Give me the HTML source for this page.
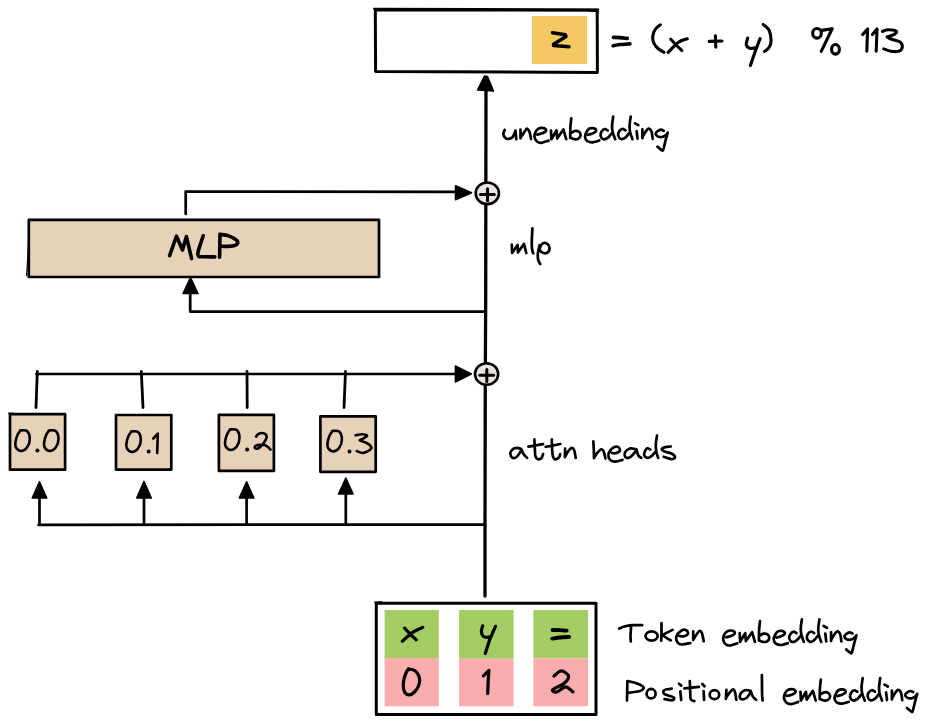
<!DOCTYPE html>
<html><head><meta charset="utf-8"><style>
html,body{margin:0;padding:0;background:#fff;}
svg{display:block;}
text{font-family:"Liberation Sans",sans-serif;fill:#000;}
</style></head><body>
<svg width="929" height="724" viewBox="0 0 929 724">
<rect width="929" height="724" fill="#fff"/>
<rect x="532" y="16" width="55" height="48" fill="#f4c963"/>
<path d="M375.3 9.8 L597.2 10.2 L597.4 72.5 L375.6 71.4 Z" fill="none" stroke="#000" stroke-width="3" stroke-linejoin="round" stroke-linecap="round"/>
<path d="M486.0 80.0 L485.7 300.0 L485.3 375.0 L485.0 524.0 L485.0 596.0" fill="none" stroke="#000" stroke-width="3.3" stroke-linejoin="round" stroke-linecap="round"/>
<path d="M484.5 76.0 L487.5 76.5 L493.5 91.0 L477.5 90.0 Z" fill="#000" stroke="#000" stroke-width="1.5" stroke-linejoin="round"/>
<path d="M185.7 214.0 L185.7 191.5 L458.0 191.8" fill="none" stroke="#000" stroke-width="2.7" stroke-linejoin="round" stroke-linecap="round"/>
<path d="M471.6 192.8 L455.5 185.8 L455.5 199.8 Z" fill="#000" stroke="#000" stroke-width="1.5" stroke-linejoin="round"/>
<path d="M28.8 219.9 L379.0 219.9 L379.0 277.0 L28.8 277.0 Z" fill="#e8d1b9" stroke="#000" stroke-width="2.7" stroke-linejoin="round" stroke-linecap="round"/>
<path d="M485.0 311.6 L190.2 311.6 L190.2 292.0" fill="none" stroke="#000" stroke-width="2.7" stroke-linejoin="round" stroke-linecap="round"/>
<path d="M190.5 277.5 L198.0 293.5 L183.0 293.5 Z" fill="#000" stroke="#000" stroke-width="1.5" stroke-linejoin="round"/>
<ellipse cx="487.3" cy="193.3" rx="11.6" ry="10.8" fill="#e9e4de" stroke="#000" stroke-width="2.6"/>
<path d="M480.5 194.5 L494.3 194.5" fill="none" stroke="#000" stroke-width="3" stroke-linejoin="round" stroke-linecap="round"/>
<path d="M487.5 188.8 L487.5 200.8" fill="none" stroke="#000" stroke-width="3" stroke-linejoin="round" stroke-linecap="round"/>
<ellipse cx="486.6" cy="374" rx="11.6" ry="10.8" fill="#e9e4de" stroke="#000" stroke-width="2.6"/>
<path d="M479.8 375.2 L493.6 375.2" fill="none" stroke="#000" stroke-width="3" stroke-linejoin="round" stroke-linecap="round"/>
<path d="M486.8 369.5 L486.8 381.5" fill="none" stroke="#000" stroke-width="3" stroke-linejoin="round" stroke-linecap="round"/>
<path d="M36.5 374.0 L456.0 374.0" fill="none" stroke="#000" stroke-width="2.7" stroke-linejoin="round" stroke-linecap="round"/>
<path d="M471.3 374.0 L455.4 366.0 L455.4 382.0 Z" fill="#000" stroke="#000" stroke-width="1.5" stroke-linejoin="round"/>
<path d="M37.3 371.5 L36.0 407.5" fill="none" stroke="#000" stroke-width="2.8" stroke-linejoin="round" stroke-linecap="round"/>
<path d="M10.0 414.2 L65.1 414.2 L65.1 469.7 L10.0 469.7 Z" fill="#e8d1b9" stroke="#000" stroke-width="2.7" stroke-linejoin="round" stroke-linecap="round"/>
<path d="M39.5 524.7 L39.5 497.0" fill="none" stroke="#000" stroke-width="2.7" stroke-linejoin="round" stroke-linecap="round"/>
<path d="M39.5 481.8 L46.8 498.0 L32.2 498.0 Z" fill="#000" stroke="#000" stroke-width="1.5" stroke-linejoin="round"/>
<path d="M141.3 371.5 L143.0 407.5" fill="none" stroke="#000" stroke-width="2.8" stroke-linejoin="round" stroke-linecap="round"/>
<path d="M116.0 415.0 L171.3 415.0 L171.3 469.6 L116.0 469.6 Z" fill="#e8d1b9" stroke="#000" stroke-width="2.7" stroke-linejoin="round" stroke-linecap="round"/>
<path d="M144.0 524.7 L144.0 497.0" fill="none" stroke="#000" stroke-width="2.7" stroke-linejoin="round" stroke-linecap="round"/>
<path d="M144.0 481.4 L151.3 498.0 L136.7 498.0 Z" fill="#000" stroke="#000" stroke-width="1.5" stroke-linejoin="round"/>
<path d="M247.0 371.5 L247.2 407.5" fill="none" stroke="#000" stroke-width="2.8" stroke-linejoin="round" stroke-linecap="round"/>
<path d="M218.9 414.8 L273.9 414.8 L273.9 470.9 L218.9 470.9 Z" fill="#e8d1b9" stroke="#000" stroke-width="2.7" stroke-linejoin="round" stroke-linecap="round"/>
<path d="M246.6 524.7 L246.6 497.0" fill="none" stroke="#000" stroke-width="2.7" stroke-linejoin="round" stroke-linecap="round"/>
<path d="M246.6 481.8 L253.9 498.0 L239.3 498.0 Z" fill="#000" stroke="#000" stroke-width="1.5" stroke-linejoin="round"/>
<path d="M345.5 371.5 L344.0 407.5" fill="none" stroke="#000" stroke-width="2.8" stroke-linejoin="round" stroke-linecap="round"/>
<path d="M320.4 416.3 L375.7 416.3 L375.7 471.8 L320.4 471.8 Z" fill="#e8d1b9" stroke="#000" stroke-width="2.7" stroke-linejoin="round" stroke-linecap="round"/>
<path d="M345.8 524.7 L345.8 493.0" fill="none" stroke="#000" stroke-width="2.7" stroke-linejoin="round" stroke-linecap="round"/>
<path d="M345.8 478.0 L353.1 494.0 L338.5 494.0 Z" fill="#000" stroke="#000" stroke-width="1.5" stroke-linejoin="round"/>
<path d="M485.0 524.6 L38.5 524.8" fill="none" stroke="#000" stroke-width="2.7" stroke-linejoin="round" stroke-linecap="round"/>
<rect x="384.6" y="610" width="54.19999999999999" height="48.0" fill="#a3cd62"/>
<rect x="384.6" y="658.0" width="54.19999999999999" height="48.299999999999955" fill="#fbadad"/>
<rect x="459.1" y="610" width="54.5" height="48.700000000000045" fill="#a3cd62"/>
<rect x="459.1" y="658.7" width="54.5" height="47.59999999999991" fill="#fbadad"/>
<rect x="533.4" y="610" width="54.700000000000045" height="48.5" fill="#a3cd62"/>
<rect x="533.4" y="658.5" width="54.700000000000045" height="47.799999999999955" fill="#fbadad"/>
<path d="M376.3 603.2 L596.0 603.2 L596.0 714.4 L376.3 714.4 Z" fill="none" stroke="#000" stroke-width="3" stroke-linejoin="round" stroke-linecap="round"/>
<path d="M373.8 8.6 L480.0 8.9 L598.6 9.2" fill="none" stroke="#000" stroke-width="1.6" stroke-linejoin="round" stroke-linecap="round"/>
<path d="M590.0 11.2 L598.6 11.4" fill="none" stroke="#000" stroke-width="1.4" stroke-linejoin="round" stroke-linecap="round"/>
<path d="M29.6 219.2 L28.2 250.0 L26.6 275.5" fill="none" stroke="#000" stroke-width="1.2" stroke-linejoin="round" stroke-linecap="round"/>
<path d="M8.6 413.2 L14.0 413.3" fill="none" stroke="#000" stroke-width="1.3" stroke-linejoin="round" stroke-linecap="round"/>
<path d="M374.6 602.2 L382.0 601.9" fill="none" stroke="#000" stroke-width="1.3" stroke-linejoin="round" stroke-linecap="round"/>
<path d="M660.30 24.80C659.50 25.50 656.75 27.13 655.50 29.00C654.25 30.87 653.08 33.67 652.80 36.00C652.52 38.33 652.93 40.92 653.80 43.00C654.67 45.08 656.30 46.95 658.00 48.50C659.70 50.05 663.00 51.67 664.00 52.30M670.80 39.20C671.67 40.17 674.17 43.12 676.00 45.00C677.83 46.88 680.83 49.58 681.80 50.50M687.30 38.80C685.77 39.42 681.28 40.23 678.10 42.50C674.92 44.77 669.85 50.75 668.20 52.40M709.20 41.40L722.00 41.00M715.40 35.90L715.80 47.20M747.70 38.00C747.47 39.15 745.83 43.15 746.30 44.90C746.77 46.65 748.80 48.07 750.50 48.50C752.20 48.93 755.50 47.67 756.50 47.50M760.10 38.60C759.25 40.83 756.62 47.50 755.00 52.00C753.38 56.50 751.17 63.33 750.40 65.60M763.20 24.50C764.17 25.42 767.68 27.30 769.00 30.00C770.32 32.70 771.10 37.78 771.10 40.70C771.10 43.62 770.08 45.72 769.00 47.50C767.92 49.28 765.33 50.75 764.60 51.40M821.70 30.40L832.20 28.80M832.20 28.80L821.20 51.40M862.70 34.60L867.60 29.00L866.80 51.30M872.40 34.60L877.00 29.00L876.20 51.30M882.40 31.40C883.38 31.13 885.97 29.80 888.30 29.80C890.63 29.80 895.50 30.60 896.40 31.40C897.30 32.20 895.23 33.70 893.70 34.60C892.17 35.50 888.28 36.43 887.20 36.80M887.20 36.80C887.83 37.17 888.85 38.15 891.00 39.00C893.15 39.85 898.22 40.60 900.10 41.90C901.98 43.20 902.47 45.27 902.30 46.80C902.13 48.33 900.98 50.35 899.10 51.10C897.22 51.85 893.57 51.67 891.00 51.30C888.43 50.93 884.92 49.30 883.70 48.90" fill="none" stroke="#000" stroke-width="3.1" stroke-linecap="round" stroke-linejoin="round"/><ellipse cx="817.00" cy="33.30" rx="4.30" ry="4.80" fill="none" stroke="#000" stroke-width="3.1"/><ellipse cx="835.50" cy="49.30" rx="3.90" ry="4.80" fill="none" stroke="#000" stroke-width="3.1"/>
<path d="M613.40 37.40C614.50 37.43 617.68 37.43 620.00 37.60C622.32 37.77 626.08 38.27 627.30 38.40M613.10 45.80C614.25 45.58 617.20 44.82 620.00 44.50C622.80 44.18 628.25 44.00 629.90 43.90" fill="none" stroke="#000" stroke-width="3.6" stroke-linecap="round" stroke-linejoin="round"/>
<path d="M552.40 32.70L565.30 34.80L566.00 36.60L553.50 44.30L553.60 45.60L569.00 46.70" fill="none" stroke="#000" stroke-width="3.5" stroke-linecap="round" stroke-linejoin="round"/>
<path d="M504.70 129.80C504.47 130.52 503.18 132.73 503.30 134.10C503.42 135.47 504.53 137.20 505.40 138.00C506.27 138.80 507.27 139.10 508.50 138.90C509.73 138.70 511.63 138.18 512.80 136.80C513.97 135.42 515.05 131.63 515.50 130.60M515.50 130.60L516.30 139.10M520.50 129.60L520.50 138.30M520.60 137.50C521.05 136.87 522.40 135.03 523.30 133.70C524.20 132.37 525.33 130.32 526.00 129.50C526.67 128.68 526.72 128.42 527.30 128.80C527.88 129.18 528.88 130.08 529.50 131.80C530.12 133.52 530.75 137.88 531.00 139.10M537.30 134.60C538.00 134.43 540.13 134.12 541.50 133.60C542.87 133.08 544.82 132.27 545.50 131.50C546.18 130.73 546.10 129.62 545.60 129.00C545.10 128.38 543.68 127.87 542.50 127.80C541.32 127.73 539.67 127.90 538.50 128.60C537.33 129.30 536.17 130.60 535.50 132.00C534.83 133.40 534.25 135.42 534.50 137.00C534.75 138.58 535.83 140.53 537.00 141.50C538.17 142.47 539.57 142.95 541.50 142.80C543.43 142.65 547.42 140.97 548.60 140.60M551.00 130.50L551.40 139.20L556.50 130.50L557.20 138.40L563.40 129.50L566.20 139.20M571.30 118.40C571.15 119.88 570.58 124.05 570.40 127.30C570.22 130.55 570.23 136.13 570.20 137.90M570.90 133.00C571.55 132.67 573.48 131.22 574.80 131.00C576.12 130.78 577.83 131.00 578.80 131.70C579.77 132.40 580.67 134.05 580.60 135.20C580.53 136.35 579.50 137.93 578.40 138.60C577.30 139.27 575.33 139.38 574.00 139.20C572.67 139.02 571.00 137.78 570.40 137.50M587.80 134.80C588.47 134.63 590.50 134.33 591.80 133.80C593.10 133.27 594.93 132.33 595.60 131.60C596.27 130.87 596.27 129.98 595.80 129.40C595.33 128.82 593.88 128.22 592.80 128.10C591.72 127.98 590.37 128.02 589.30 128.70C588.23 129.38 587.12 130.82 586.40 132.20C585.68 133.58 584.87 135.53 585.00 137.00C585.13 138.47 585.95 140.12 587.20 141.00C588.45 141.88 590.50 142.38 592.50 142.30C594.50 142.22 598.08 140.80 599.20 140.50M607.70 130.40C607.18 130.17 605.63 128.78 604.60 129.00C603.57 129.22 602.15 130.52 601.50 131.70C600.85 132.88 600.40 134.85 600.70 136.10C601.00 137.35 602.13 138.90 603.30 139.20C604.47 139.50 606.30 138.87 607.70 137.90C609.10 136.93 611.03 134.15 611.70 133.40M613.20 116.70C613.02 118.08 612.20 122.50 612.10 125.00C612.00 127.50 612.08 129.33 612.60 131.70C613.12 134.07 614.77 137.95 615.20 139.20M625.40 130.40C624.95 130.13 623.73 128.67 622.70 128.80C621.67 128.93 619.93 130.05 619.20 131.20C618.47 132.35 618.00 134.40 618.30 135.70C618.60 137.00 619.88 138.63 621.00 139.00C622.12 139.37 623.68 138.83 625.00 137.90C626.32 136.97 628.25 134.15 628.90 133.40M630.70 116.70C630.52 118.08 629.72 122.50 629.60 125.00C629.48 127.50 629.52 129.33 630.00 131.70C630.48 134.07 632.08 137.95 632.50 139.20M635.00 123.30L638.30 125.20M636.60 131.00L637.50 138.70M642.40 129.40L642.40 138.20M642.50 137.00C643.00 136.17 644.50 133.40 645.50 132.00C646.50 130.60 647.50 128.68 648.50 128.60C649.50 128.52 650.80 129.80 651.50 131.50C652.20 133.20 652.50 137.58 652.70 138.80M663.70 130.80C663.25 130.62 662.03 129.62 661.00 129.70C659.97 129.78 658.38 130.60 657.50 131.30C656.62 132.00 655.62 133.02 655.70 133.90C655.78 134.78 656.97 136.08 658.00 136.60C659.03 137.12 660.65 137.22 661.90 137.00C663.15 136.78 664.53 136.03 665.50 135.30C666.47 134.57 667.33 133.05 667.70 132.60M667.70 132.60C667.33 133.93 666.23 137.80 665.50 140.60C664.77 143.40 663.90 147.78 663.30 149.40C662.70 151.02 662.87 150.75 661.90 150.30C660.93 149.85 658.23 147.30 657.50 146.70" fill="none" stroke="#000" stroke-width="2.7" stroke-linecap="round" stroke-linejoin="round"/>
<path d="M619.20 628.60C620.05 628.25 622.15 627.07 624.30 626.50C626.45 625.93 629.12 625.42 632.10 625.20C635.08 624.98 640.52 625.20 642.20 625.20M631.10 626.30C631.00 627.93 630.55 633.60 630.50 636.10C630.45 638.60 630.75 640.43 630.80 641.30M661.50 623.20C661.50 624.75 661.55 629.58 661.50 632.50C661.45 635.42 661.25 639.33 661.20 640.70M672.60 629.90L662.40 634.90M662.40 634.90C663.08 635.38 665.10 636.88 666.50 637.80C667.90 638.72 670.08 639.97 670.80 640.40M679.30 636.00C680.07 636.05 682.45 636.68 683.90 636.30C685.35 635.92 687.62 634.72 688.00 633.70C688.38 632.68 687.27 630.73 686.20 630.20C685.13 629.67 683.15 629.63 681.60 630.50C680.05 631.37 677.68 633.60 676.90 635.40C676.12 637.20 676.12 639.78 676.90 641.30C677.68 642.82 679.37 644.22 681.60 644.50C683.83 644.78 688.85 643.25 690.30 643.00M693.20 631.40L693.20 640.10M693.40 639.50C693.95 638.63 695.67 635.75 696.70 634.30C697.73 632.85 698.73 631.00 699.60 630.80C700.47 630.60 701.22 631.35 701.90 633.10C702.58 634.85 703.40 639.93 703.70 641.30M726.00 637.30C726.70 637.13 728.83 636.82 730.20 636.30C731.57 635.78 733.52 634.97 734.20 634.20C734.88 633.43 734.80 632.32 734.30 631.70C733.80 631.08 732.38 630.57 731.20 630.50C730.02 630.43 728.37 630.60 727.20 631.30C726.03 632.00 724.87 633.30 724.20 634.70C723.53 636.10 722.95 638.12 723.20 639.70C723.45 641.28 724.53 643.23 725.70 644.20C726.87 645.17 728.27 645.65 730.20 645.50C732.13 645.35 736.12 643.67 737.30 643.30M739.70 633.20L740.10 641.90L745.20 633.20L745.90 641.10L752.10 632.20L754.90 641.90M760.00 621.10C759.85 622.58 759.28 626.75 759.10 630.00C758.92 633.25 758.93 638.83 758.90 640.60M759.60 635.70C760.25 635.37 762.18 633.92 763.50 633.70C764.82 633.48 766.53 633.70 767.50 634.40C768.47 635.10 769.37 636.75 769.30 637.90C769.23 639.05 768.20 640.63 767.10 641.30C766.00 641.97 764.03 642.08 762.70 641.90C761.37 641.72 759.70 640.48 759.10 640.20M776.50 637.50C777.17 637.33 779.20 637.03 780.50 636.50C781.80 635.97 783.63 635.03 784.30 634.30C784.97 633.57 784.97 632.68 784.50 632.10C784.03 631.52 782.58 630.92 781.50 630.80C780.42 630.68 779.07 630.72 778.00 631.40C776.93 632.08 775.82 633.52 775.10 634.90C774.38 636.28 773.57 638.23 773.70 639.70C773.83 641.17 774.65 642.82 775.90 643.70C777.15 644.58 779.20 645.08 781.20 645.00C783.20 644.92 786.78 643.50 787.90 643.20M796.40 633.10C795.88 632.87 794.33 631.48 793.30 631.70C792.27 631.92 790.85 633.22 790.20 634.40C789.55 635.58 789.10 637.55 789.40 638.80C789.70 640.05 790.83 641.60 792.00 641.90C793.17 642.20 795.00 641.57 796.40 640.60C797.80 639.63 799.73 636.85 800.40 636.10M801.90 619.40C801.72 620.78 800.90 625.20 800.80 627.70C800.70 630.20 800.78 632.03 801.30 634.40C801.82 636.77 803.47 640.65 803.90 641.90M814.10 633.10C813.65 632.83 812.43 631.37 811.40 631.50C810.37 631.63 808.63 632.75 807.90 633.90C807.17 635.05 806.70 637.10 807.00 638.40C807.30 639.70 808.58 641.33 809.70 641.70C810.82 642.07 812.38 641.53 813.70 640.60C815.02 639.67 816.95 636.85 817.60 636.10M819.40 619.40C819.22 620.78 818.42 625.20 818.30 627.70C818.18 630.20 818.22 632.03 818.70 634.40C819.18 636.77 820.78 640.65 821.20 641.90M823.70 626.00L827.00 627.90M825.30 633.70L826.20 641.40M831.10 632.10L831.10 640.90M831.20 639.70C831.70 638.87 833.20 636.10 834.20 634.70C835.20 633.30 836.20 631.38 837.20 631.30C838.20 631.22 839.50 632.50 840.20 634.20C840.90 635.90 841.20 640.28 841.40 641.50M852.40 633.50C851.95 633.32 850.73 632.32 849.70 632.40C848.67 632.48 847.08 633.30 846.20 634.00C845.32 634.70 844.32 635.72 844.40 636.60C844.48 637.48 845.67 638.78 846.70 639.30C847.73 639.82 849.35 639.92 850.60 639.70C851.85 639.48 853.23 638.73 854.20 638.00C855.17 637.27 856.03 635.75 856.40 635.30M856.40 635.30C856.03 636.63 854.93 640.50 854.20 643.30C853.47 646.10 852.60 650.48 852.00 652.10C851.40 653.72 851.57 653.45 850.60 653.00C849.63 652.55 846.93 650.00 846.20 649.40" fill="none" stroke="#000" stroke-width="2.7" stroke-linecap="round" stroke-linejoin="round"/><ellipse cx="651.60" cy="636.00" rx="6.10" ry="4.60" fill="none" stroke="#000" stroke-width="2.7"/>
<path d="M627.40 681.00L627.00 700.50M627.50 681.00C628.58 681.25 631.90 681.88 634.00 682.50C636.10 683.12 638.48 683.82 640.10 684.70C641.72 685.58 643.72 686.75 643.70 687.80C643.68 688.85 642.57 690.17 640.00 691.00C637.43 691.83 630.25 692.50 628.30 692.80M671.70 688.70C670.75 688.83 667.35 689.15 666.00 689.50C664.65 689.85 663.85 690.02 663.60 690.80C663.35 691.58 662.85 693.12 664.50 694.20C666.15 695.28 672.15 696.28 673.50 697.30C674.85 698.32 674.10 700.00 672.60 700.30C671.10 700.60 665.85 699.30 664.50 699.10M679.00 683.80L681.20 685.60M680.30 691.40L681.20 700.00M689.80 681.00C689.87 682.50 690.05 686.98 690.20 690.00C690.35 693.02 690.02 697.27 690.70 699.10C691.38 700.93 693.70 700.68 694.30 701.00M684.40 688.30L698.90 686.90M702.30 684.00L704.50 686.30M703.60 691.20L704.10 699.80M726.40 689.90L725.90 698.80M726.10 697.50C726.65 696.73 728.27 694.25 729.40 692.90C730.53 691.55 731.98 689.57 732.90 689.40C733.82 689.23 734.33 690.17 734.90 691.90C735.47 693.63 736.07 698.48 736.30 699.80M748.70 690.40C748.05 690.37 746.12 689.70 744.80 690.20C743.48 690.70 741.63 692.22 740.80 693.40C739.97 694.58 739.55 696.32 739.80 697.30C740.05 698.28 741.15 699.22 742.30 699.30C743.45 699.38 745.38 698.87 746.70 697.80C748.02 696.73 749.53 694.05 750.20 692.90C750.87 691.75 750.62 691.23 750.70 690.90M750.70 690.90C751.03 691.82 751.80 694.92 752.70 696.40C753.60 697.88 755.53 699.23 756.10 699.80M761.90 675.00C761.93 678.23 761.98 690.18 762.10 694.40C762.22 698.62 762.52 699.32 762.60 700.30M786.80 695.90C787.50 695.73 789.63 695.42 791.00 694.90C792.37 694.38 794.32 693.57 795.00 692.80C795.68 692.03 795.60 690.92 795.10 690.30C794.60 689.68 793.18 689.17 792.00 689.10C790.82 689.03 789.17 689.20 788.00 689.90C786.83 690.60 785.67 691.90 785.00 693.30C784.33 694.70 783.75 696.72 784.00 698.30C784.25 699.88 785.33 701.83 786.50 702.80C787.67 703.77 789.07 704.25 791.00 704.10C792.93 703.95 796.92 702.27 798.10 701.90M800.50 691.80L800.90 700.50L806.00 691.80L806.70 699.70L812.90 690.80L815.70 700.50M820.80 679.70C820.65 681.18 820.08 685.35 819.90 688.60C819.72 691.85 819.73 697.43 819.70 699.20M820.40 694.30C821.05 693.97 822.98 692.52 824.30 692.30C825.62 692.08 827.33 692.30 828.30 693.00C829.27 693.70 830.17 695.35 830.10 696.50C830.03 697.65 829.00 699.23 827.90 699.90C826.80 700.57 824.83 700.68 823.50 700.50C822.17 700.32 820.50 699.08 819.90 698.80M837.30 696.10C837.97 695.93 840.00 695.63 841.30 695.10C842.60 694.57 844.43 693.63 845.10 692.90C845.77 692.17 845.77 691.28 845.30 690.70C844.83 690.12 843.38 689.52 842.30 689.40C841.22 689.28 839.87 689.32 838.80 690.00C837.73 690.68 836.62 692.12 835.90 693.50C835.18 694.88 834.37 696.83 834.50 698.30C834.63 699.77 835.45 701.42 836.70 702.30C837.95 703.18 840.00 703.68 842.00 703.60C844.00 703.52 847.58 702.10 848.70 701.80M857.20 691.70C856.68 691.47 855.13 690.08 854.10 690.30C853.07 690.52 851.65 691.82 851.00 693.00C850.35 694.18 849.90 696.15 850.20 697.40C850.50 698.65 851.63 700.20 852.80 700.50C853.97 700.80 855.80 700.17 857.20 699.20C858.60 698.23 860.53 695.45 861.20 694.70M862.70 678.00C862.52 679.38 861.70 683.80 861.60 686.30C861.50 688.80 861.58 690.63 862.10 693.00C862.62 695.37 864.27 699.25 864.70 700.50M874.90 691.70C874.45 691.43 873.23 689.97 872.20 690.10C871.17 690.23 869.43 691.35 868.70 692.50C867.97 693.65 867.50 695.70 867.80 697.00C868.10 698.30 869.38 699.93 870.50 700.30C871.62 700.67 873.18 700.13 874.50 699.20C875.82 698.27 877.75 695.45 878.40 694.70M880.20 678.00C880.02 679.38 879.22 683.80 879.10 686.30C878.98 688.80 879.02 690.63 879.50 693.00C879.98 695.37 881.58 699.25 882.00 700.50M884.50 684.60L887.80 686.50M886.10 692.30L887.00 700.00M891.90 690.70L891.90 699.50M892.00 698.30C892.50 697.47 894.00 694.70 895.00 693.30C896.00 691.90 897.00 689.98 898.00 689.90C899.00 689.82 900.30 691.10 901.00 692.80C901.70 694.50 902.00 698.88 902.20 700.10M913.20 692.10C912.75 691.92 911.53 690.92 910.50 691.00C909.47 691.08 907.88 691.90 907.00 692.60C906.12 693.30 905.12 694.32 905.20 695.20C905.28 696.08 906.47 697.38 907.50 697.90C908.53 698.42 910.15 698.52 911.40 698.30C912.65 698.08 914.03 697.33 915.00 696.60C915.97 695.87 916.83 694.35 917.20 693.90M917.20 693.90C916.83 695.23 915.73 699.10 915.00 701.90C914.27 704.70 913.40 709.08 912.80 710.70C912.20 712.32 912.37 712.05 911.40 711.60C910.43 711.15 907.73 708.60 907.00 708.00" fill="none" stroke="#000" stroke-width="2.7" stroke-linecap="round" stroke-linejoin="round"/><ellipse cx="651.10" cy="693.70" rx="4.50" ry="4.75" fill="none" stroke="#000" stroke-width="2.7"/><ellipse cx="714.45" cy="694.65" rx="4.70" ry="4.50" fill="none" stroke="#000" stroke-width="2.7"/>
<path d="M520.50 448.60C519.75 448.48 517.42 447.67 516.00 447.90C514.58 448.13 512.95 449.07 512.00 450.00C511.05 450.93 510.22 452.20 510.30 453.50C510.38 454.80 511.47 457.22 512.50 457.80C513.53 458.38 515.25 457.88 516.50 457.00C517.75 456.12 519.17 453.75 520.00 452.50C520.83 451.25 521.25 450.00 521.50 449.50M521.50 449.50C521.83 450.25 522.57 452.62 523.50 454.00C524.43 455.38 526.50 457.17 527.10 457.80M534.40 439.40C534.48 441.17 534.72 447.15 534.90 450.00C535.08 452.85 535.00 454.95 535.50 456.50C536.00 458.05 536.90 459.05 537.90 459.30C538.90 459.55 540.63 458.87 541.50 458.00C542.37 457.13 542.83 454.75 543.10 454.10M528.40 446.60C529.50 446.42 532.55 445.90 535.00 445.50C537.45 445.10 541.75 444.42 543.10 444.20M551.80 439.40C551.87 441.17 552.00 447.15 552.20 450.00C552.40 452.85 552.50 454.95 553.00 456.50C553.50 458.05 554.18 459.17 555.20 459.30C556.22 459.43 558.27 458.17 559.10 457.30C559.93 456.43 560.02 454.63 560.20 454.10M545.70 446.80C546.92 446.58 550.55 445.97 553.00 445.50C555.45 445.03 559.17 444.25 560.40 444.00M565.10 448.50L564.90 457.10M565.20 456.50C565.68 455.67 567.03 452.93 568.10 451.50C569.17 450.07 570.58 448.12 571.60 447.90C572.62 447.68 573.52 448.52 574.20 450.20C574.88 451.88 575.45 456.70 575.70 458.00M593.30 441.30C593.38 442.70 593.68 446.90 593.80 449.70C593.92 452.50 593.97 456.70 594.00 458.10M594.20 457.50C594.78 456.65 596.52 453.77 597.70 452.40C598.88 451.03 600.33 449.53 601.30 449.30C602.27 449.07 602.80 449.47 603.50 451.00C604.20 452.53 605.17 457.25 605.50 458.50M611.90 452.80C612.48 452.87 614.07 453.57 615.40 453.20C616.73 452.83 619.45 451.63 619.90 450.60C620.35 449.57 619.00 447.60 618.10 447.00C617.20 446.40 615.83 446.40 614.50 447.00C613.17 447.60 611.12 449.12 610.10 450.60C609.08 452.08 608.32 454.28 608.40 455.90C608.48 457.52 609.43 459.35 610.60 460.30C611.77 461.25 613.42 461.67 615.40 461.60C617.38 461.53 621.32 460.18 622.50 459.90M634.70 448.90C633.88 448.85 631.42 448.00 629.80 448.60C628.18 449.20 625.70 451.05 625.00 452.50C624.30 453.95 624.80 456.50 625.60 457.30C626.40 458.10 628.28 458.10 629.80 457.30C631.32 456.50 633.58 453.80 634.70 452.50C635.82 451.20 636.20 450.00 636.50 449.50M636.50 449.50C636.80 450.50 637.50 454.10 638.30 455.50C639.10 456.90 640.80 457.50 641.30 457.90M650.30 449.50C649.80 449.30 648.20 448.00 647.30 448.30C646.40 448.60 645.40 450.10 644.90 451.30C644.40 452.50 643.90 454.40 644.30 455.50C644.70 456.60 646.10 457.80 647.30 457.90C648.50 458.00 650.08 457.20 651.50 456.10C652.92 455.00 655.08 452.10 655.80 451.30M657.00 435.60C656.80 437.00 655.90 441.28 655.80 444.00C655.70 446.72 656.00 449.58 656.40 451.90C656.80 454.22 657.90 456.90 658.20 457.90M670.80 446.50C669.90 446.60 666.90 446.70 665.40 447.10C663.90 447.50 662.00 448.20 661.80 448.90C661.60 449.60 662.50 450.50 664.20 451.30C665.90 452.10 670.20 452.70 672.00 453.70C673.80 454.70 675.10 456.40 675.00 457.30C674.90 458.20 673.30 459.20 671.40 459.10C669.50 459.00 664.90 457.10 663.60 456.70" fill="none" stroke="#000" stroke-width="2.7" stroke-linecap="round" stroke-linejoin="round"/>
<path d="M511.80 244.60L512.10 253.00L517.60 244.90L517.90 252.40L524.00 244.00L526.30 253.00M532.40 228.40C532.30 230.57 531.85 237.88 531.80 241.40C531.75 244.92 531.85 247.52 532.10 249.50C532.35 251.48 533.10 252.67 533.30 253.30M539.60 249.50C539.75 249.00 539.92 247.55 540.50 246.50C541.08 245.45 541.88 243.57 543.10 243.20C544.32 242.83 546.73 243.33 547.80 244.30C548.87 245.27 549.70 247.55 549.50 249.00C549.30 250.45 547.85 252.43 546.60 253.00C545.35 253.57 543.25 253.07 542.00 252.40C540.75 251.73 539.58 249.57 539.10 249.00M539.70 245.00C539.40 246.33 538.15 250.50 537.90 253.00C537.65 255.50 537.82 258.17 538.20 260.00C538.58 261.83 539.87 263.33 540.20 264.00" fill="none" stroke="#000" stroke-width="2.7" stroke-linecap="round" stroke-linejoin="round"/>
<path d="M169.60 255.60L176.50 236.20L182.50 250.00L186.40 236.60L191.60 258.60M203.20 235.80C202.75 237.17 201.37 241.22 200.50 244.00C199.63 246.78 198.32 250.45 198.00 252.50C197.68 254.55 197.77 255.58 198.60 256.30C199.43 257.02 200.30 256.70 203.00 256.80C205.70 256.90 212.83 256.88 214.80 256.90M220.00 234.00L219.60 257.30M220.50 234.50C221.75 234.68 225.65 234.88 228.00 235.60C230.35 236.32 232.97 237.68 234.60 238.80C236.23 239.92 237.73 241.22 237.80 242.30C237.87 243.38 236.72 244.62 235.00 245.30C233.28 245.98 229.87 246.27 227.50 246.40C225.13 246.53 221.92 246.15 220.80 246.10" fill="none" stroke="#000" stroke-width="3.6" stroke-linecap="round" stroke-linejoin="round"/>
<path d="M20.00 430.50C21.17 430.58 25.37 429.58 27.00 431.00C28.63 432.42 29.80 436.25 29.80 439.00C29.80 441.75 28.47 445.50 27.00 447.50C25.53 449.50 22.83 451.00 21.00 451.00C19.17 451.00 16.92 449.00 16.00 447.50C15.08 446.00 15.25 444.08 15.50 442.00C15.75 439.92 16.67 436.92 17.50 435.00C18.33 433.08 20.00 431.25 20.50 430.50M48.70 430.50C49.87 430.58 54.07 429.58 55.70 431.00C57.33 432.42 58.50 436.25 58.50 439.00C58.50 441.75 57.17 445.50 55.70 447.50C54.23 449.50 51.53 451.00 49.70 451.00C47.87 451.00 45.62 449.00 44.70 447.50C43.78 446.00 43.95 444.08 44.20 442.00C44.45 439.92 45.37 436.92 46.20 435.00C47.03 433.08 48.70 431.25 49.20 430.50M131.00 431.50C132.17 431.58 136.37 430.58 138.00 432.00C139.63 433.42 140.80 437.25 140.80 440.00C140.80 442.75 139.47 446.50 138.00 448.50C136.53 450.50 133.83 452.00 132.00 452.00C130.17 452.00 127.92 450.00 127.00 448.50C126.08 447.00 126.25 445.08 126.50 443.00C126.75 440.92 127.67 437.92 128.50 436.00C129.33 434.08 131.00 432.25 131.50 431.50M229.70 429.50C230.87 429.58 235.07 428.58 236.70 430.00C238.33 431.42 239.50 435.25 239.50 438.00C239.50 440.75 238.17 444.50 236.70 446.50C235.23 448.50 232.53 450.00 230.70 450.00C228.87 450.00 226.62 448.00 225.70 446.50C224.78 445.00 224.95 443.08 225.20 441.00C225.45 438.92 226.37 435.92 227.20 434.00C228.03 432.08 229.70 430.25 230.20 429.50M332.10 431.00C333.27 431.08 337.47 430.08 339.10 431.50C340.73 432.92 341.90 436.75 341.90 439.50C341.90 442.25 340.57 446.00 339.10 448.00C337.63 450.00 334.93 451.50 333.10 451.50C331.27 451.50 329.02 449.50 328.10 448.00C327.18 446.50 327.35 444.58 327.60 442.50C327.85 440.42 328.77 437.42 329.60 435.50C330.43 433.58 332.10 431.75 332.60 431.00M153.30 438.50L157.80 433.60L157.20 452.90M256.10 436.60C256.47 436.18 257.33 434.70 258.30 434.10C259.27 433.50 260.65 432.93 261.90 433.00C263.15 433.07 265.03 433.72 265.80 434.50C266.57 435.28 266.73 436.45 266.50 437.70C266.27 438.95 265.30 440.62 264.40 442.00C263.50 443.38 262.18 444.92 261.10 446.00C260.02 447.08 258.92 448.15 257.90 448.50C256.88 448.85 255.42 448.52 255.00 448.10C254.58 447.68 254.68 446.53 255.40 446.00C256.12 445.47 257.80 445.08 259.30 444.90C260.80 444.72 262.95 444.55 264.40 444.90C265.85 445.25 266.98 446.22 268.00 447.00C269.02 447.78 270.08 449.17 270.50 449.60M355.60 435.20C356.70 435.03 360.30 434.07 362.20 434.20C364.10 434.33 367.40 434.98 367.00 436.00C366.60 437.02 361.00 439.58 359.80 440.30M359.80 440.30C361.20 440.90 366.30 442.50 368.20 443.90C370.10 445.30 372.00 447.20 371.20 448.70C370.40 450.20 365.80 452.50 363.40 452.90C361.00 453.30 357.90 451.40 356.80 451.10" fill="none" stroke="#000" stroke-width="2.6" stroke-linecap="round" stroke-linejoin="round"/>
<circle cx="37.4" cy="450.5" r="2" fill="#000"/>
<circle cx="148.7" cy="451.4" r="2" fill="#000"/>
<circle cx="247.1" cy="449.6" r="2" fill="#000"/>
<circle cx="349.5" cy="451.4" r="2" fill="#000"/>
<path d="M404.60 628.10C405.50 629.08 408.05 632.07 410.00 634.00C411.95 635.93 415.25 638.75 416.30 639.70M422.80 627.40C421.10 628.23 416.00 630.10 412.60 632.40C409.20 634.70 404.10 639.73 402.40 641.20M482.70 625.80C482.47 626.75 481.18 629.75 481.30 631.50C481.42 633.25 482.43 635.33 483.40 636.30C484.37 637.27 485.78 637.30 487.10 637.30C488.42 637.30 490.60 636.47 491.30 636.30M495.50 626.30C494.53 628.57 491.40 635.35 489.70 639.90C488.00 644.45 486.03 651.32 485.30 653.60M407.50 669.80C408.25 669.75 410.50 669.13 412.00 669.50C413.50 669.87 415.23 670.42 416.50 672.00C417.77 673.58 419.27 676.67 419.60 679.00C419.93 681.33 419.35 683.83 418.50 686.00C417.65 688.17 416.00 690.53 414.50 692.00C413.00 693.47 411.12 694.72 409.50 694.80C407.88 694.88 405.83 693.97 404.80 692.50C403.77 691.03 403.38 688.42 403.30 686.00C403.22 683.58 403.77 680.33 404.30 678.00C404.83 675.67 405.80 673.53 406.50 672.00C407.20 670.47 408.17 669.33 408.50 668.80M483.50 675.90L488.90 670.50M488.90 670.50C488.78 672.32 488.40 677.58 488.20 681.40C488.00 685.22 487.78 691.40 487.70 693.40M554.00 676.00C555.22 675.15 558.88 670.90 561.30 670.90C563.72 670.90 568.02 673.95 568.50 676.00C568.98 678.05 566.85 680.92 564.20 683.20C561.55 685.48 553.82 688.25 552.60 689.70C551.38 691.15 554.73 692.38 556.90 691.90C559.07 691.42 562.93 686.80 565.60 686.80C568.27 686.80 571.68 691.05 572.90 691.90" fill="none" stroke="#000" stroke-width="3.2" stroke-linecap="round" stroke-linejoin="round"/>
<path d="M552.60 630.00C553.83 630.03 557.65 630.08 560.00 630.20C562.35 630.32 565.58 630.62 566.70 630.70M552.20 638.60C553.50 638.42 557.17 637.78 560.00 637.50C562.83 637.22 567.67 637.00 569.20 636.90" fill="none" stroke="#000" stroke-width="3.8" stroke-linecap="round" stroke-linejoin="round"/>
</svg></body></html>
